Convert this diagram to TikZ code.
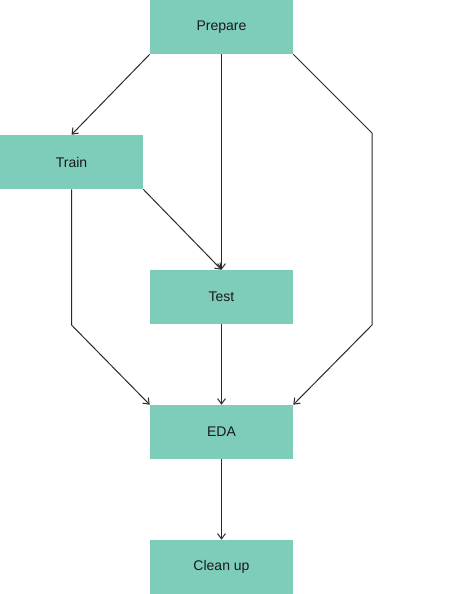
\documentclass[tikz,border=0pt]{standalone}
\usepackage{fontspec}
\setmainfont{Liberation Sans}
\usetikzlibrary{arrows.meta}
\definecolor{boxfill}{HTML}{7ECDBB}
\definecolor{linegray}{HTML}{2A2A2A}
\begin{document}
\begin{tikzpicture}[x=0.75pt,y=-0.75pt,
  box/.style={fill=boxfill,draw=none,minimum width=107.25pt,minimum height=40.5pt,inner sep=0pt,font=\fontsize{10.5}{12}\selectfont,text=black!90},
  conn/.style={draw=linegray,line width=0.75pt,-{Straight Barb[length=4pt,width=6pt]}}]
\useasboundingbox (0,0) rectangle (474,594);
\node[box] (prep) at (221.5,27) {Prepare};
\node[box] (train) at (71.5,162) {Train};
\node[box] (test) at (221.5,297) {Test};
\node[box] (eda) at (221.5,432) {EDA};
\node[box] (clean) at (221.5,567) {Clean up};
\coordinate (r1) at (372,133);
\coordinate (r2) at (372,325);
\coordinate (l1) at (71.5,325);
\draw[conn] (prep.south west) -- (train.north);
\draw[conn] (prep.south) -- (test.north);
\draw[conn] (prep.south east) -- (r1) -- (r2) -- (eda.north east);
\draw[conn] (train.south east) -- (test.north);
\draw[conn] (train.south) -- (l1) -- (eda.north west);
\draw[conn] (test.south) -- (eda.north);
\draw[conn] (eda.south) -- (clean.north);
\end{tikzpicture}
\end{document}
